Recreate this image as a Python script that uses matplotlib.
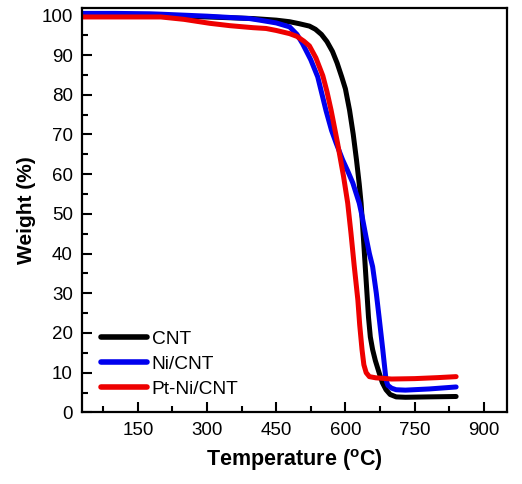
import matplotlib.pyplot as plt
from matplotlib.ticker import MultipleLocator

plt.rcParams['font.family'] = ['Liberation Sans', 'DejaVu Sans']
plt.rcParams['mathtext.fontset'] = 'custom'
plt.rcParams['mathtext.rm'] = 'Liberation Sans:bold'
plt.rcParams['mathtext.bf'] = 'Liberation Sans:bold'

# TGA curves
cnt_t = [30, 100, 200, 300, 400, 450, 479, 500, 522, 535, 548, 560, 572, 582, 592,
         600, 609, 617, 624, 630, 634, 639, 643, 647, 650, 654, 659, 665, 673, 680,
         688, 697, 710, 730, 780, 840]
cnt_w = [100, 100, 99.9, 99.6, 99.2, 98.8, 98.4, 97.9, 97.3, 96.5, 95.2, 93.4, 90.9,
         88, 84.5, 81.5, 76.1, 70, 63.6, 57.5, 52.7, 44, 36.7, 29.5, 24, 19, 15.8,
         13, 10, 7.5, 5.7, 4.5, 3.9, 3.8, 3.9, 4.0]

ni_t = [30, 100, 176, 200, 300, 392, 414, 450, 479, 495, 507, 525, 540, 558, 570,
        580, 594, 605, 616, 630, 636, 645, 652, 659, 667, 673, 681, 688, 692, 700,
        710, 730, 782, 840]
ni_w = [100.5, 100.5, 100.4, 100.3, 99.8, 99.2, 98.8, 98.1, 97.1, 95.2, 92.9, 88.8,
        84.5, 76, 71, 67.8, 63.6, 60.8, 57.8, 52.7, 49.5, 44, 40, 36.7, 30, 24,
        15.8, 8.2, 6.8, 6.1, 5.7, 5.6, 5.9, 6.4]

pt_t = [30, 100, 200, 250, 306, 350, 400, 428, 450, 479, 495, 510, 522, 536, 551,
        560, 569, 583, 596, 605, 612, 619, 627, 631, 636, 640, 645, 652, 666, 700,
        750, 800, 840]
pt_w = [99.6, 99.6, 99.6, 99.0, 98.0, 97.4, 96.9, 96.7, 96.2, 95.4, 94.7, 93.5,
        92.3, 89.3, 84.8, 80.8, 76.1, 67.8, 59.4, 52.7, 45.2, 37, 28.3, 22, 15.8,
        12, 10, 9.0, 8.7, 8.4, 8.5, 8.75, 9.0]

fig = plt.figure(figsize=(5.22, 4.84), dpi=100)
ax = fig.add_axes([0.158, 0.148, 0.813, 0.835])

lw = 3.6
ax.plot(cnt_t, cnt_w, color='black', lw=lw, label='CNT', solid_joinstyle='round', solid_capstyle='round')
ax.plot(ni_t, ni_w, color='#0000ee', lw=lw, label='Ni/CNT', solid_joinstyle='round', solid_capstyle='round')
ax.plot(pt_t, pt_w, color='#ee0000', lw=lw, label='Pt-Ni/CNT', solid_joinstyle='round', solid_capstyle='round')

ax.set_xlim(30, 950)
ax.set_ylim(0, 101.8)
ax.xaxis.set_major_locator(MultipleLocator(150))
ax.xaxis.set_minor_locator(MultipleLocator(75))
ax.yaxis.set_major_locator(MultipleLocator(10))
ax.yaxis.set_minor_locator(MultipleLocator(5))
ax.set_xticks([150, 300, 450, 600, 750, 900])

ax.tick_params(which='both', direction='in', top=False, right=False, width=1.5, labelsize=13.5, pad=7)
ax.tick_params(which='major', length=7)
ax.tick_params(which='minor', length=4.5)
for s in ax.spines.values():
    s.set_linewidth(1.6)

ax.set_xlabel(r'Temperature ($^{\rm o}$C)', fontsize=15.5, fontweight='bold', labelpad=6)
ax.set_ylabel('Weight (%)', fontsize=15, fontweight='bold', labelpad=4)

leg = ax.legend(loc='lower left', bbox_to_anchor=(0.012, 0.003), frameon=False, fontsize=13.8,
                handlelength=2.4, handletextpad=0.25, labelspacing=0.4, borderaxespad=0.3)
for h in leg.get_lines():
    h.set_linewidth(lw + 0.4)
    h.set_solid_capstyle('round')

fig.savefig('out.png', dpi=100)
